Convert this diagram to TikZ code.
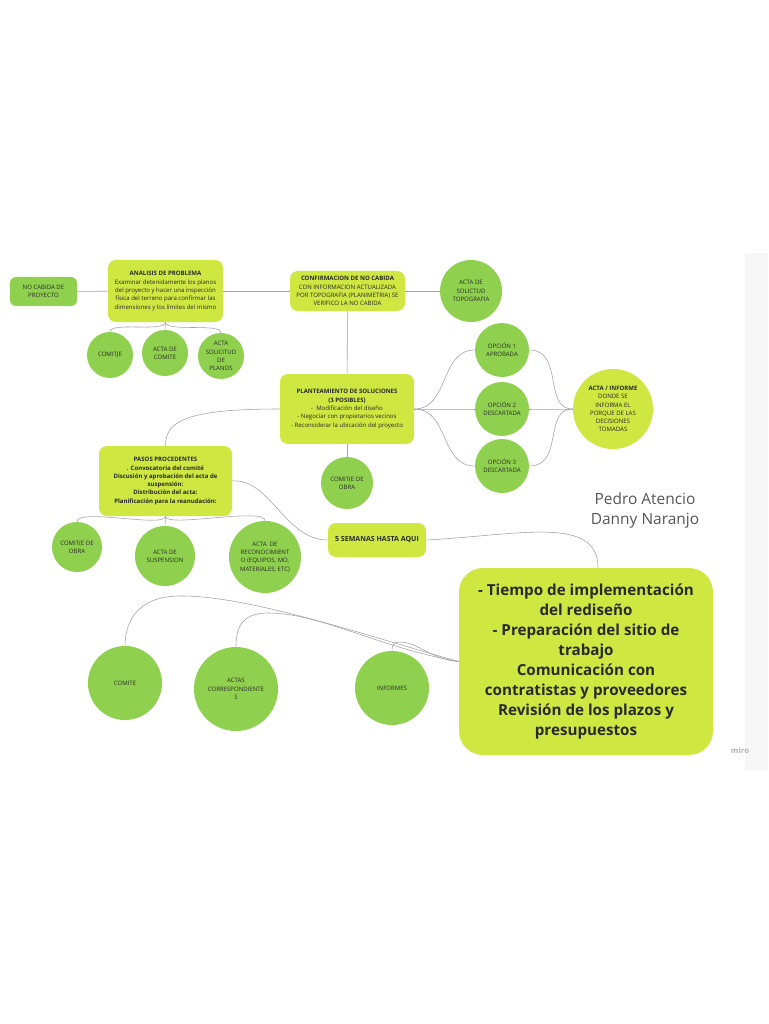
\documentclass[tikz,border=0pt]{standalone}
\usepackage{fontspec}
\setmainfont{Open Sans}
\usetikzlibrary{positioning}
\definecolor{limefill}{HTML}{CEE741}
\definecolor{leaffill}{HTML}{8FD14F}
\definecolor{linkline}{HTML}{A3A3A3}
\definecolor{txtdark}{HTML}{2A2A2A}
\definecolor{namegray}{HTML}{555555}
\definecolor{panelfill}{HTML}{F6F6F6}
\tikzset{
  topic/.style   = {rectangle, rounded corners=2mm, fill=limefill, align=center,
                    text=txtdark, font=\fontsize{4.3}{5.9}\selectfont, inner sep=1pt},
  leaf/.style    = {circle, fill=leaffill, align=center, text=txtdark,
                    font=\fontsize{4.3}{5.9}\selectfont, inner sep=0pt},
  limeleaf/.style= {leaf, fill=limefill},
  link/.style    = {draw=linkline, line width=0.4pt},
}

\begin{document}
\begin{tikzpicture}[x=0.25mm, y=-0.25mm]
	\useasboundingbox[fill=white] (0,0) rectangle (768,1024);
	\fill[panelfill] (745,253) rectangle (768,770);

	% top row
	\node[topic, fill=leaffill, rounded corners=1.5mm, minimum width=16.75mm, minimum height=7.25mm]
	(nocab) at (43.5,291.5) {NO CABIDA DE\\PROYECTO};
	\node[topic, minimum width=28.75mm, minimum height=15.5mm]
	(ana) at (165.5,291) {\textbf{ANALISIS DE PROBLEMA}\\Examinar detenidamente los planos\\del proyecto y hacer una inspección\\física del terreno para confirmar las\\dimensiones y los límites del mismo};
	\node[topic, minimum width=28.75mm, minimum height=10mm]
	(conf) at (347.5,291) {\textbf{CONFIRMACION DE NO CABIDA}\\CON INFORMACION ACTUALIZADA\\POR TOPOGRAFIA (PLANIMETRIA) SE\\VERIFICO LA NO CABIDA};
	\node[leaf, minimum size=15.5mm]
	(topo) at (471,291) {ACTA DE\\SOLICTUD\\TOPOGRAFIA};

	\node[leaf, minimum size=11.5mm] (comitje) at (110,355) {COMITJE};
	\node[leaf, minimum size=11.5mm] (actcom) at (165,353) {ACTA DE\\COMITE};
	\node[leaf, minimum size=11.5mm] (actsol) at (221,356) {ACTA\\SOLICITUD\\DE\\PLANOS};

	% soluciones
	\node[topic, minimum width=33.5mm, minimum height=17.5mm]
	(plant) at (347,409) {\textbf{PLANTEAMIENTO DE SOLUCIONES}\\\textbf{(3 POSIBLES)}\\- \ Modificación del diseño\\- Negociar con propietarios vecinos\\- Reconsiderar la ubicación del proyecto};
	\node[leaf, minimum size=13.5mm] (opt1) at (502,350) {OPCIÓN 1\\APROBADA};
	\node[leaf, minimum size=13.5mm] (opt2) at (502,409) {OPCIÓN 2\\DESCARTADA};
	\node[leaf, minimum size=13.5mm] (opt3) at (502,466) {OPCIÓN 3\\DESCARTADA};
	\node[limeleaf, minimum size=20mm]
	(acta) at (613,409) {\textbf{ACTA / INFORME}\\DONDE SE\\INFORMA EL\\PORQUE DE LAS\\DECISIONES\\TOMADAS};
	\node[leaf, minimum size=13mm] (cobra) at (347,483) {COMIT(E DE\\OBRA};

	% pasos
	\node[topic, minimum width=33.25mm, minimum height=17.5mm, font=\fontsize{4.3}{5.9}\selectfont\bfseries]
	(pasos) at (165.5,481) {PASOS PROCEDENTES\\. Convocatoria del comité\\Discusión y aprobación del acta de\\suspensión:\\Distribución del acta:\\Planificación para la reanudación:};
	\node[leaf, minimum size=12.5mm] (cobra2) at (77,547) {COMIT(E DE\\OBRA};
	\node[leaf, minimum size=15mm] (susp) at (165,556) {ACTA DE\\SUSPENSION};
	\node[leaf, minimum size=18mm] (recon) at (265,557) {ACTA \ DE\\RECONOCIMIENT\\O (EQUIPOS, MO,\\MATERIALES, ETC)};
	\node[topic, minimum width=24.5mm, minimum height=8.5mm, font=\fontsize{5}{6}\selectfont\bfseries]
	(sem) at (377,540) {5 SEMANAS HASTA AQUI};

	% cierre
	\node[topic, rounded corners=6mm, minimum width=63.5mm, minimum height=46.75mm,
	font=\fontsize{10.8}{14.2}\selectfont\bfseries]
	(big) at (586,661.5) {- Tiempo de implementación\\del rediseño\\- Preparación del sitio de\\trabajo\\Comunicación con\\contratistas y proveedores\\Revisión de los plazos y\\presupuestos};
	\node[leaf, minimum size=18.5mm] (comite) at (125,683) {COMITE};
	\node[leaf, minimum size=21mm] (actas) at (236,689) {ACTAS\\CORRESPONDIENTE\\S};
	\node[leaf, minimum size=18.5mm] (informes) at (392,688) {INFORMES};

	\node[align=center, text=namegray, font=\fontsize{11}{14.2}\selectfont]
	(names) at (645,510) {Pedro Atencio\\Danny Naranjo};
	\node[text=black!30, font=\fontsize{5.5}{6}\selectfont\bfseries] (miro) at (740,751) {miro};

	% links
	\draw[link] (nocab) -- (ana);
	\draw[link] (ana) -- (conf);
	\draw[link] (conf) -- (topo);
	\draw[link] (conf) -- (plant);
	\draw[link] (plant) -- (cobra);
	\draw[link] (ana.south) .. controls +(0,10) and +(0,-10) .. (comitje.north);
	\draw[link] (ana.south) -- (actcom.north);
	\draw[link] (ana.south) .. controls +(0,10) and +(0,-10) .. (actsol.north);
	\foreach \o in {opt1, opt2, opt3} {
		\draw[link] (plant.east) .. controls +(35,0) and +(-35,0) .. (\o.west);
		\draw[link] (\o.east) .. controls +(35,0) and +(-30,0) .. (acta.west);
	}
	\draw[link] (plant.west) .. controls (190,409) and (165,420) .. (pasos.north);
	\draw[link] (pasos.south) .. controls +(0,12) and +(0,-14) .. (cobra2.north);
	\draw[link] (pasos.south) -- (susp.north);
	\draw[link] (pasos.south) .. controls +(0,12) and +(0,-14) .. (recon.north);
	\draw[link] (pasos.east) .. controls (270,478) and (285,540) .. (sem.west);
	\draw[link] (sem.east) .. controls (520,535) and (598,515) .. ([xshift=3mm]big.north);
	\draw[link] (big.west) .. controls (380,640) and (250,595) .. (180,596)
		.. controls (135,596) and (125,625) .. (comite.north);
	\draw[link] (big.west) .. controls (380,648) and (320,613) .. (268,613)
		.. controls (240,613) and (236,630) .. (actas.north);
	\draw[link] (big.west) .. controls (432,660) and (418,642) .. (400,642)
		.. controls (393,642) and (392,646) .. (informes.north);
\end{tikzpicture}
\end{document}
